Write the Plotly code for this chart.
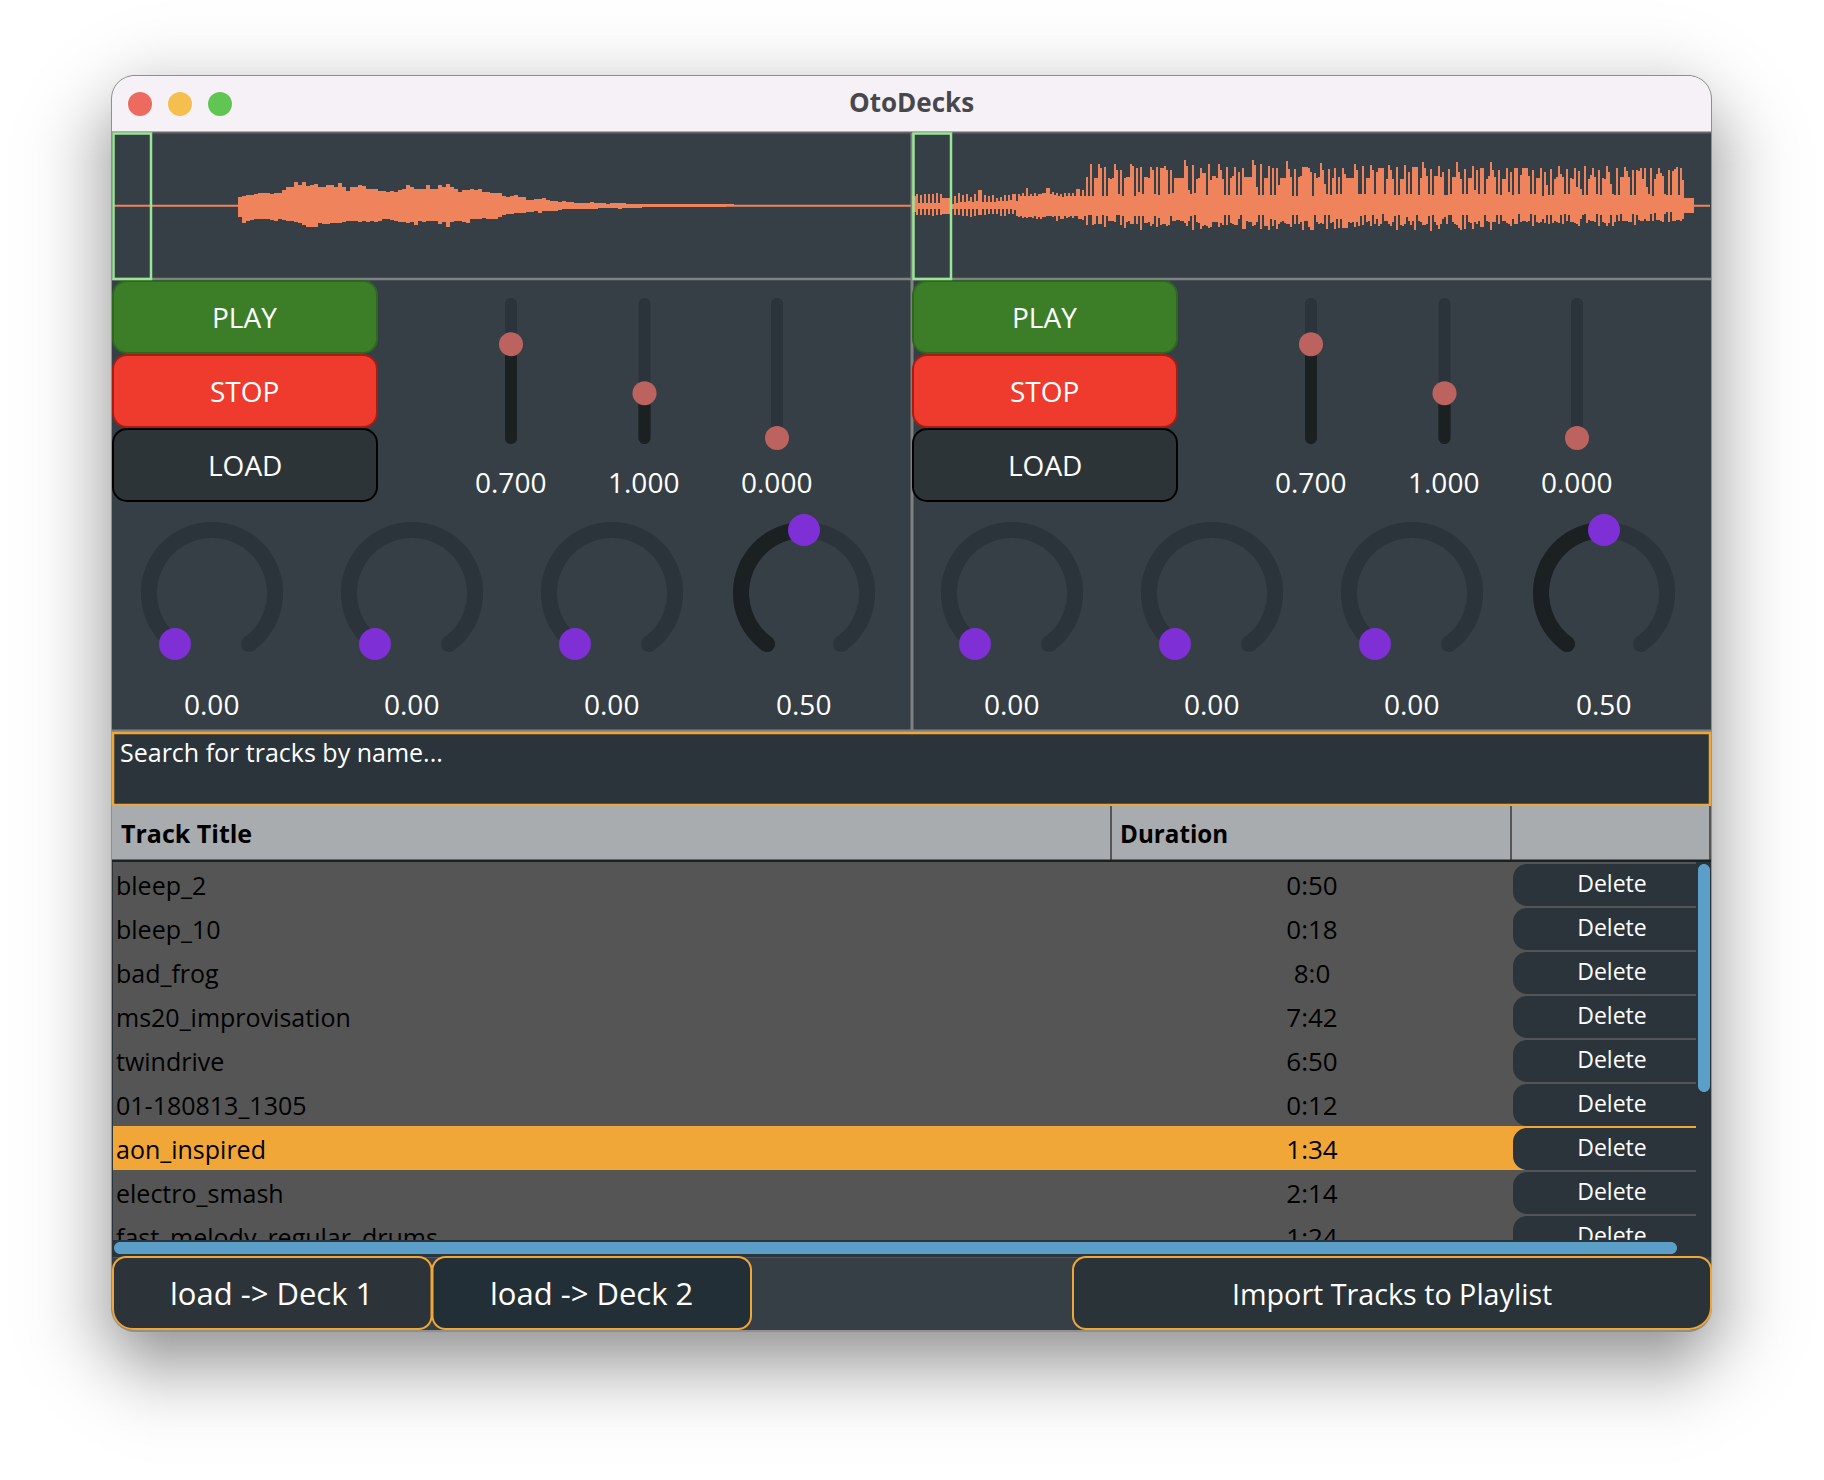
import math
from statistics import NormalDist
import plotly.graph_objects as go

# ---------- data ----------
APP_TITLE = "OtoDecks"
TRANSPORT_LABELS = ["PLAY", "STOP", "LOAD"]
SLIDER_VALUES = [0.7, 1.0, 0.0]
SLIDER_MAXIMA = [1.0, 3.0, 1.0]
KNOB_VALUES = [0.0, 0.0, 0.0, 0.5]
SEARCH_PROMPT = "Search for tracks by name..."
TABLE_HEADERS = ["Track Title", "Duration"]
TRACK_TITLES = ["bleep_2", "bleep_10", "bad_frog", "ms20_improvisation", "twindrive",
                "01-180813_1305", "aon_inspired", "electro_smash", "fast_melody_regular_drums"]
TRACK_DURATIONS = ["0:50", "0:18", "8:0", "7:42", "6:50", "0:12", "1:34", "2:14", "1:24"]
SELECTED_TRACK = "aon_inspired"
ROW_ACTION = "Delete"
BOTTOM_LABELS = ["load -> Deck 1", "load -> Deck 2", "Import Tracks to Playlist"]

WAVE1_TOP = [9,9.7,10.3,10.3,11.7,12.3,13,12.7,12,13,13,15.7,18.3,19,23.7,21,23.3,20,20.7,21.7,19,18.3,20.3,21,19,22.3,18.3,14.3,18.3,18.3,
             20.3,20,16.3,16.3,17,15,14.3,13.7,15,13.7,15.7,16.7,20.3,18.3,16.3,16.3,17,21,17,16.3,20.3,18.3,21.7,18.3,17,13.7,15.7,15.7,16.3,15.7,
             16.3,14,13.7,12.3,12.3,13,9.7,8.3,9.7,10.3,9,8.3,5.7,5.7,6.3,7,7.3,5.7,5,5,3.7,4.3,3.7,3.3,3,3,3,3,3.3,2.3,
             2.3,2.7,2,2.3,2.7,2.7,2.3,2,2,2,2,2,2,2,2,2,1.4,1.4,1.4,1.4,1.4,1.4,1.4,1.4,1.4,1.4,1.4,1.4,1.4,1.4,1.4,1.4,1.4,1.4]
WAVE1_BOTTOM = [11,17.7,15,14.3,13.7,13,13,13.7,14.3,15,13,14.3,15,15.7,16.3,17.7,19.7,21,21.7,21,17,18.3,18.3,17.7,17.7,17.7,16.3,15,15.7,15.7,
                16.3,15.7,16.3,15.7,16.3,15,13.7,13,14.3,15.7,16.3,16.3,17,16,19,15,16.3,15,15,15,18.3,16,21,16.3,15,15,16.3,17.7,13.7,13.7,
                13.7,12.7,13,13,13,11,9,8.3,8.3,7.7,7.7,7,6.3,6.3,5.7,7,5.7,5,5,5,4.3,3.7,3.7,3.3,3.7,3.7,3.7,3.7,3,3,
                2.3,2.3,2.3,2.3,2,3,2,2,2,2,2,1.4,1.4,1.4,1.4,1.4,1.4,1.4,1.4,1.4,1.4,1.4,1.4,1.4,1.4,1.4,1.4,1.4,1.4,1.4,1.4,1.4]

WAVE2_TOP = [10,10,12,3,11,3,12,3,12,3,12,3,13,3,12,8,8,8,8,4,
             2,10,3,13,4,11,4,12,5,9,4,12,5,16,16,4,11,4,10,4,
             11,4,8,5,9,5,11,5,11,6,12,12,5,12,10,13,10,18,10,12,
             10,13,10,12,12,13,13,18,18,12,14,11,13,10,12,9,13,10,13,10,
             13,10,17,17,10,16,10,29,10,42,10,28,28,42,38,10,39,10,28,27,
             28,42,36,12,36,10,28,29,29,42,40,10,38,14,39,12,29,29,28,39,
             36,12,39,11,38,38,40,36,12,36,13,28,28,28,
             28,28,46,40,16,12,41,13,27,28,38,33,33,11,42,26,30,30,28,42,
             36,27,11,39,11,28,30,39,11,34,11,38,29,29,29,29,46,41,19,11,
             42,11,28,28,40,11,38,11,38,21,28,28,28,45,37,29,10,37,10,29,
             30,39,39,39,38,34,10,33,28,29,43,36,22,12,37,11,28,38,12,29,
             12,38,32,28,28,28,28,42,36,12,12,40,12,28,28,41,36,12,34,38,
             38,38,12,27,41,36,27,11,39,11,27,27,41,12,34,12,39,39,39,11,
             28,44,38,30,12,37,11,30,30,40,
             29,34,11,11,37,12,29,29,44,34,27,12,37,12,28,28,40,16,36,12,
             38,38,12,27,30,44,36,29,12,36,11,27,27,38,14,34,11,38,38,12,
             31,38,38,38,30,12,36,12,28,28,38,10,34,21,11,37,11,27,29,40,
             32,29,12,37,12,28,27,38,19,35,17,11,40,11,27,31,38,29,12,36,
             11,28,27,40,34,22,12,11,38,11,29,29,39,35,29,11,36,11,36,35,
             38,27,38,19,12,38,10,27,32,38,33,30,12,11,36,11,35,37,39,11,
             38,26,8,8,8,8,8]
WAVE2_BOTTOM = [6,6,9,3,9,3,9,3,9,3,10,3,9,3,9,8,8,8,8,3,
                3,9,3,9,3,10,3,10,3,11,3,10,3,9,9,3,9,3,8,3,
                8,3,8,3,10,3,10,3,8,3,8,4,10,11,10,12,11,12,11,11,
                12,10,13,11,13,11,11,10,10,10,11,10,15,10,13,13,10,12,11,10,
                12,10,10,13,13,14,10,19,9,9,19,18,10,18,18,9,21,10,15,15,
                15,16,9,9,19,10,22,16,15,18,18,10,18,10,24,10,17,17,16,20,
                18,10,21,12,19,18,18,20,19,10,15,15,14,14,
                15,15,17,20,15,10,24,9,16,17,23,20,19,20,22,21,16,16,16,21,
                17,19,9,19,9,17,18,19,19,13,9,23,23,15,16,16,20,19,16,9,
                23,9,20,20,24,13,20,14,23,18,16,15,17,18,18,21,9,18,9,18,
                16,24,15,15,21,24,24,9,16,18,17,18,9,23,9,17,16,23,13,22,
                13,22,22,22,16,17,16,21,16,20,10,19,9,16,15,20,9,18,13,20,
                18,8,15,15,18,20,16,10,24,9,19,20,18,11,15,19,15,24,9,15,
                16,19,19,18,10,25,9,16,19,23,
                18,13,11,18,9,9,16,18,19,22,24,9,23,9,16,17,23,16,18,15,
                21,21,9,15,16,24,16,16,9,18,9,15,15,17,18,20,13,18,18,8,
                16,15,15,16,15,8,20,9,16,17,16,13,17,9,18,9,17,15,16,17,
                9,18,8,15,9,16,16,17,18,20,13,9,8,17,14,15,15,16,8,20,
                9,16,17,20,17,9,20,16,9,15,8,15,15,15,16,16,8,19,9,14,
                15,15,13,15,15,8,15,7,14,14,15,16,8,6,16,6,15,15,14,14,
                15,13,7,7,7,7,7]

# ---------- palette ----------
FONT = "Open Sans"
BG_DECK = "#363f45"
BG_DARK = "#2a343a"
ORANGE = "#f1a738"
WAVE = "#ef845c"
GREEN = "#9be596"
RULE = "#7f8283"
TRACK_OFF = "#2a343a"
TRACK_ON = "#1b2023"
THUMB_SLIDER = "#bc625f"
THUMB_KNOB = "#7e30d6"
BLUE = "#5b9ec7"
ROW = "#555555"

WX0, WX1, WY0, WY1 = 112, 1711, 76, 1330
DECK_SHIFT = 800
WAVE_Y = 205.7


def rr(x0, y0, x1, y1, tl=0, tr=0, br=0, bl=0):
    k = 0.4477
    p = [f"M{x0 + tl},{y0}", f"L{x1 - tr},{y0}"]
    if tr:
        p.append(f"C{x1 - tr * k},{y0} {x1},{y0 + tr * k} {x1},{y0 + tr}")
    p.append(f"L{x1},{y1 - br}")
    if br:
        p.append(f"C{x1},{y1 - br * k} {x1 - br * k},{y1} {x1 - br},{y1}")
    p.append(f"L{x0 + bl},{y1}")
    if bl:
        p.append(f"C{x0 + bl * k},{y1} {x0},{y1 - bl * k} {x0},{y1 - bl}")
    p.append(f"L{x0},{y0 + tl}")
    if tl:
        p.append(f"C{x0},{y0 + tl * k} {x0 + tl * k},{y0} {x0 + tl},{y0}")
    p.append("Z")
    return " ".join(p)


shapes = []
annots = []


def box(x0, y0, x1, y1, fill, line=None, lw=0, layer="below", radii=(0, 0, 0, 0), opacity=1):
    shapes.append(dict(type="path", path=rr(x0, y0, x1, y1, *radii), fillcolor=fill, opacity=opacity,
                       line=dict(color=line or fill, width=lw), layer=layer, xref="x", yref="y"))


def rule(x0, y0, x1, y1, color, w, layer="below"):
    shapes.append(dict(type="line", x0=x0, y0=y0, x1=x1, y1=y1, line=dict(color=color, width=w),
                       layer=layer, xref="x", yref="y"))


def label(x, y, text, size, color="#ffffff", anchor="center", bold=False):
    annots.append(dict(x=x, y=y, xref="x", yref="y", text=f"<b>{text}</b>" if bold else text, showarrow=False,
                       xanchor=anchor, yanchor="middle", font=dict(family=FONT, size=size, color=color)))


# window shadow: a stack of translucent rounded panels that add up to a soft blur
SIGMA, OFFSET, LAYERS, STRENGTH = 40, 30, 120, 0.42
alpha = 1 - (1 - STRENGTH) ** (1 / LAYERS)
for k in range(LAYERS):
    e = SIGMA * NormalDist().inv_cdf((k + 0.5) / LAYERS)
    r = max(8, 24 + e + SIGMA)
    box(WX0 - e, WY0 + OFFSET - e, WX1 + e, WY1 + OFFSET + e, "#000000", radii=(r, r, r, r), opacity=alpha)

box(WX0 - 1, WY0 - 1, WX1 + 1, WY1 + 2, "#8f8f8f", radii=(24, 24, 24, 24))
box(WX0, WY0, WX1, WY1, BG_DECK, radii=(22, 22, 22, 22))

# title bar
box(WX0, WY0, WX1, 132, "#f6f1f7", radii=(22, 22, 0, 0))
rule(WX0, 132.5, WX1, 132.5, "#666666", 2)
for cx, col in zip((140, 180, 220), ("#ec6a5e", "#f5bf4f", "#61c554")):
    shapes.append(dict(type="circle", x0=cx - 12, x1=cx + 12, y0=92, y1=116, fillcolor=col,
                       line=dict(width=0), layer="below", xref="x", yref="y"))
label(911, 102, APP_TITLE, 26, "#48484c", bold=True)

traces = []


def wave_bars(values, x_start, step, sign):
    xs = [x_start + step * (i + 0.5) for i in range(len(values))]
    ys = [sign * v for v in values]
    return go.Bar(x=xs, y=ys, base=WAVE_Y, width=step, marker=dict(color=WAVE, line=dict(width=0)),
                  hoverinfo="skip", showlegend=False)


traces += [wave_bars(WAVE1_TOP, 238, 4, -1), wave_bars(WAVE1_BOTTOM, 238, 4, 1),
           wave_bars(WAVE2_TOP, 912, 2, -1), wave_bars(WAVE2_BOTTOM, 912, 2, 1)]

rule(113, WAVE_Y, 911, WAVE_Y, WAVE, 2)
rule(913, WAVE_Y, 1710, WAVE_Y, WAVE, 2)

# rules around the decks
rule(WX0, 279, WX1, 279, RULE, 2.5)
rule(912, 133, 912, 731, RULE, 3)
rule(WX0, 731, WX1, 731, RULE, 3)


def add_line(xs, ys, color, width):
    traces.append(go.Scatter(x=xs, y=ys, mode="lines", line=dict(color=color, width=width, simplify=False),
                             hoverinfo="skip", showlegend=False))


def add_dots(xs, ys, color, size):
    traces.append(go.Scatter(x=xs, y=ys, mode="markers", marker=dict(color=color, size=size, line=dict(width=0)),
                             hoverinfo="skip", showlegend=False))


def knob(cx, cy, value):
    rad = 63
    sweep = 144

    def pt(a):
        t = math.radians(a)
        return cx + rad * math.sin(t), cy - rad * math.cos(t)

    def arc(a0, a1):
        n = 120
        pts = [pt(a0 + (a1 - a0) * j / n) for j in range(n + 1)]
        return [p[0] for p in pts], [p[1] for p in pts]

    a = -sweep + 2 * sweep * value
    xs, ys = arc(-sweep, sweep)
    add_line(xs, ys, TRACK_OFF, 16)
    add_dots([xs[0], xs[-1]], [ys[0], ys[-1]], TRACK_OFF, 16)
    if value > 0:
        xs, ys = arc(-sweep, a)
        add_line(xs, ys, TRACK_ON, 16)
        add_dots([xs[0]], [ys[0]], TRACK_ON, 16)
    x, y = pt(a)
    add_dots([x], [y], THUMB_KNOB, 32)
    label(cx - 1, 704, f"{value:.2f}", 28)


BUTTON_STYLES = [("#3b7e27", "#2f6620"), ("#ee3b2e", "#a81c14"), ("#2c3438", "#000000")]
for deck in range(2):
    dx = DECK_SHIFT * deck
    # transport buttons
    for name, (fill, edge), (y0, y1) in zip(TRANSPORT_LABELS, BUTTON_STYLES, ((281, 353), (355, 427), (429, 501))):
        box(113 + dx, y0, 377 + dx, y1, fill, line=edge, lw=2, radii=(14, 14, 14, 14))
        label(244.5 + dx, (y0 + y1) / 2 - 0.5, name, 28)
    # vertical sliders
    for sx, val, vmax in zip((511, 644.5, 777), SLIDER_VALUES, SLIDER_MAXIMA):
        sx += dx
        thumb = 438 - 134 * val / vmax
        box(sx - 6, 298, sx + 6, 444, TRACK_OFF, radii=(6, 6, 6, 6))
        box(sx - 6, thumb, sx + 6, 444, TRACK_ON, radii=(0, 0, 6, 6))
        add_dots([sx], [thumb], THUMB_SLIDER, 24)
        label(sx - 1, 482, f"{val:.3f}", 28)
    # rotary knobs
    for kx, val in zip((212, 412, 612, 804), KNOB_VALUES):
        knob(kx + dx, 593, val)
    # playhead window over the waveform (drawn above the bars)
    box(113.5 + dx, 133.5, 151 + dx, 279, "rgba(0,0,0,0)", line=GREEN, lw=2.5, layer="above")

# search box
box(113, 733, 1710, 805, BG_DARK, line=ORANGE, lw=2.5)
label(118, 752, SEARCH_PROMPT, 25, anchor="left")

# table header
box(112, 806, 1711, 861, "#a8acaf")
rule(1111, 806, 1111, 861, "#555555", 2)
rule(1511, 806, 1511, 861, "#555555", 2)
rule(1710, 806, 1710, 861, "#555555", 2)
rule(112, 861, 1711, 861, "#1b2023", 3)
label(119, 833, TABLE_HEADERS[0], 25, "#000000", "left", bold=True)
label(1118, 833, TABLE_HEADERS[1], 24.2, "#000000", "left", bold=True)

# table body
ROW_H = 44
ROW_TOP = 862
box(112, 862, 1711, 1256, BG_DARK)
for i, title in enumerate(TRACK_TITLES):
    y0 = ROW_TOP + i * ROW_H
    fill = ORANGE if title == SELECTED_TRACK else ROW
    box(113, y0, 1696, y0 + ROW_H, fill)
    box(1513, y0 + 2, 1696, y0 + ROW_H, BG_DARK, radii=(14, 0, 0, 14))
row_mid = [ROW_TOP + (i + 0.5) * ROW_H for i in range(len(TRACK_TITLES))]
traces.append(go.Scatter(x=[116] * len(TRACK_TITLES), y=[m + 4.6 for m in row_mid], mode="text", text=TRACK_TITLES,
                         textposition="middle right", textfont=dict(family=FONT, size=25, color="#000000"),
                         hoverinfo="skip", showlegend=False))
traces.append(go.Scatter(x=[1312] * len(TRACK_DURATIONS), y=[m + 4.5 for m in row_mid], mode="text", text=TRACK_DURATIONS,
                         textposition="middle center", textfont=dict(family=FONT, size=26, color="#000000"),
                         hoverinfo="skip", showlegend=False))
traces.append(go.Scatter(x=[1612] * len(TRACK_TITLES), y=[m + 1.8 for m in row_mid], mode="text",
                         text=[ROW_ACTION] * len(TRACK_TITLES), textposition="middle center",
                         textfont=dict(family=FONT, size=23, color="#ffffff"), hoverinfo="skip", showlegend=False))

# band that cuts off the last row, with the scrollbars
box(112, 1240, 1711, 1257, BG_DARK, layer="above")
box(114, 1242, 1677, 1254, BLUE, layer="above", radii=(6, 6, 6, 6))
box(1698, 864, 1710, 1092, BLUE, radii=(6, 6, 6, 6))

# bottom buttons
for name, (x0, x1), fill, tx, size in zip(BOTTOM_LABELS, ((113, 431.5), (432.5, 751), (1073, 1711)),
                                          ("#2c3439", "#232f37", "#2a3338"), (271.5, 591.5, 1391.5), (31, 31, 28.7)):
    br = 22 if x1 == 1711 else 13
    bl = 20 if x0 == 113 else 13
    box(x0, 1257, x1, 1329, fill, line=ORANGE, lw=2, layer="above", radii=(13, 13, br, bl))
    label(tx, 1293, name, size)

fig = go.Figure(traces)
fig.update_layout(
    width=1824, height=1480, autosize=False, margin=dict(l=0, r=0, t=0, b=0, pad=0),
    paper_bgcolor="#ffffff", plot_bgcolor="rgba(0,0,0,0)", barmode="overlay", bargap=0, showlegend=False,
    shapes=shapes, annotations=annots, hovermode=False,
    xaxis=dict(range=[0, 1824], visible=False, fixedrange=True),
    yaxis=dict(range=[1480, 0], visible=False, fixedrange=True),
)
fig.write_html("out.html", config={"displayModeBar": False},
               post_script="document.body.style.margin='0';document.documentElement.style.overflow='hidden';")
